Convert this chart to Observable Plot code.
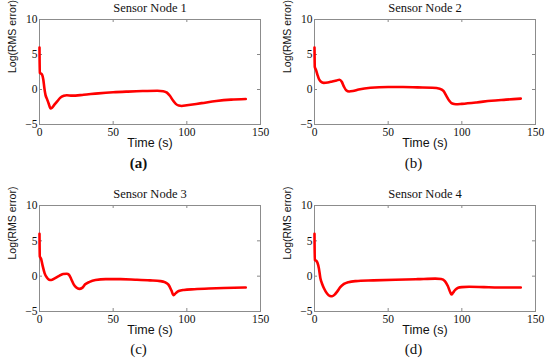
<!DOCTYPE html>
<html>
<head>
<meta charset="utf-8">
<script src="https://cdn.jsdelivr.net/npm/d3@7"></script>
<script src="https://cdn.jsdelivr.net/npm/@observablehq/plot@0.6"></script>
<style>
  html, body { margin: 0; padding: 0; background: #fff; }
  #wrap { position: relative; width: 550px; height: 362px; overflow: hidden; background: #fff; }
  .panel { position: absolute; width: 275px; height: 181px; }
  .panel svg { display: block; background: transparent; }
</style>
</head>
<body>
<div id="wrap"></div>
<script>
// ---- data ----
const titles = ["Sensor Node 1", "Sensor Node 2", "Sensor Node 3", "Sensor Node 4"];
const letters = ["(a)", "(b)", "(c)", "(d)"];
const xTicks = [0, 50, 100, 150];
const yTicks = [-5, 0, 5, 10];
const xLabel = "Time (s)";
const yLabel = "Log(RMS error)";

const time1 = [0, 0.2, 0.8, 1.8, 2.6, 3.3, 4.1, 5.0, 6.2, 7.5, 8.5, 10, 12, 14, 16.5, 18.5, 22, 30, 40, 50, 60, 70, 80, 84, 86.5, 88.5, 90.5, 92.5, 94.5, 96.5, 100, 110, 120, 130, 140];
const err1  = [6.0, 2.4, 2.3, 2.1, 1.4, 0.2, -0.8, -1.3, -2.0, -2.7, -2.6, -2.2, -1.7, -1.2, -0.9, -0.82, -0.88, -0.75, -0.55, -0.4, -0.3, -0.22, -0.18, -0.25, -0.45, -0.9, -1.55, -2.05, -2.3, -2.35, -2.25, -1.95, -1.65, -1.45, -1.35];

const time2 = [0, 0.2, 1, 2, 3, 4.2, 6.3, 9, 12, 15, 17, 18.5, 20, 21.5, 23.5, 26, 30, 38, 50, 60, 70, 80, 85, 87.5, 89.5, 91.5, 93.5, 96, 100, 110, 120, 130, 140];
const err2  = [6.0, 3.2, 2.8, 2.1, 1.5, 1.15, 0.95, 1.0, 1.15, 1.3, 1.4, 1.1, 0.4, -0.1, -0.28, -0.22, 0.0, 0.25, 0.35, 0.35, 0.3, 0.25, 0.12, -0.2, -0.9, -1.6, -2.0, -2.1, -2.05, -1.85, -1.6, -1.45, -1.3];

const time3 = [0, 0.2, 1, 2, 3.5, 5, 6.5, 8, 10, 13, 16, 18.5, 20, 21.5, 23.3, 25, 27, 29, 31, 34, 38, 45, 55, 65, 75, 82, 85, 87.5, 89.5, 91, 92.5, 94.5, 98, 105, 115, 125, 140];
const err3  = [6.0, 2.8, 2.5, 1.6, 0.4, -0.2, -0.5, -0.55, -0.35, 0.0, 0.3, 0.35, 0.2, -0.4, -1.2, -1.6, -1.8, -1.65, -1.15, -0.8, -0.55, -0.42, -0.42, -0.5, -0.6, -0.7, -0.85, -1.2, -2.0, -2.7, -2.4, -2.1, -1.95, -1.85, -1.75, -1.68, -1.6];

const time4 = [0, 0.2, 1, 2, 3, 4, 5.2, 6.5, 8.5, 10.5, 12, 13.5, 15.5, 17.5, 20, 23, 28, 40, 55, 70, 82, 86, 88.5, 90.5, 92, 93, 94, 95.5, 97.5, 100, 105, 115, 125, 140];
const err4  = [6.0, 2.3, 2.2, 1.9, 1.1, -0.3, -1.1, -1.75, -2.45, -2.8, -2.85, -2.65, -2.15, -1.55, -1.1, -0.85, -0.7, -0.6, -0.5, -0.42, -0.35, -0.4, -0.7, -1.4, -2.2, -2.6, -2.35, -1.95, -1.65, -1.55, -1.5, -1.55, -1.6, -1.6];

const series = [[time1, err1], [time2, err2], [time3, err3], [time4, err4]];
const positions = [[0, 0], [275, 0], [0, 181], [275, 181]];

const serif = "'Liberation Serif', 'Times New Roman', serif";
const sans = "'Liberation Sans', Arial, sans-serif";

const wrap = document.getElementById("wrap");

series.forEach(([ts, vs], i) => {
  const top = i < 2;
  const W = 275, H = 181;
  const mL = 39, mR = 15;
  const mT = top ? 19 : 24;
  const mB = top ? 57 : 51;
  const fw = W - mL - mR, fh = H - mT - mB;
  const data = ts.map((t, k) => ({t, v: vs[k]}));
  const inner = xTicks.filter(d => d > 0 && d < 150);
  const innerY = yTicks.filter(d => d > -5 && d < 10);
  const chart = Plot.plot({
    width: W, height: H,
    marginLeft: mL, marginRight: mR, marginTop: mT, marginBottom: mB,
    style: {background: "transparent", overflow: "visible"},
    x: {domain: [0, 150], ticks: xTicks},
    y: {domain: [-5, 10], ticks: yTicks},
    marks: [
      Plot.tickX(inner, {x: d => d, insetTop: fh - 3, stroke: "#888"}),
      Plot.tickX(inner, {x: d => d, insetBottom: fh - 3, stroke: "#888"}),
      Plot.tickY(innerY, {y: d => d, insetRight: fw - 3, stroke: "#888"}),
      Plot.tickY(innerY, {y: d => d, insetLeft: fw - 3, stroke: "#888"}),
      Plot.frame({stroke: "#8c8c8c", strokeWidth: 1}),
      Plot.axisX(xTicks, {tickSize: 0, tickPadding: 3, label: null, fontFamily: serif, fontSize: 11.5, fill: "#111"}),
      Plot.axisY(yTicks, {tickSize: 0, tickPadding: 2, label: null, fontFamily: serif, fontSize: 11.5, fill: "#111"}),
      Plot.line(data, {x: "t", y: "v", stroke: "#ff0000", strokeWidth: 2.6, curve: "monotone-x"}),
      Plot.text([titles[i]], {frameAnchor: "top", dy: -12, fontFamily: serif, fontSize: 12.5, fill: "#111", lineAnchor: "middle"}),
      Plot.text([xLabel], {frameAnchor: "bottom", dy: 18, fontFamily: sans, fontSize: 12.5, fill: "#111", lineAnchor: "middle"}),
      Plot.text([yLabel], {frameAnchor: "left", dx: -26.5, dy: 1, rotate: -90, fontFamily: sans, fontSize: 10.5, fill: "#111", lineAnchor: "middle"}),
      Plot.text([letters[i]], {frameAnchor: "bottom", dx: -11.5, dy: top ? 39 : 38, fontFamily: serif, fontSize: 15, fontWeight: i === 0 ? "bold" : "normal", fill: "#111", lineAnchor: "middle"})
    ]
  });
  const div = document.createElement("div");
  div.className = "panel";
  div.style.left = positions[i][0] + "px";
  div.style.top = positions[i][1] + "px";
  div.appendChild(chart);
  wrap.appendChild(div);
});
</script>
</body>
</html>
